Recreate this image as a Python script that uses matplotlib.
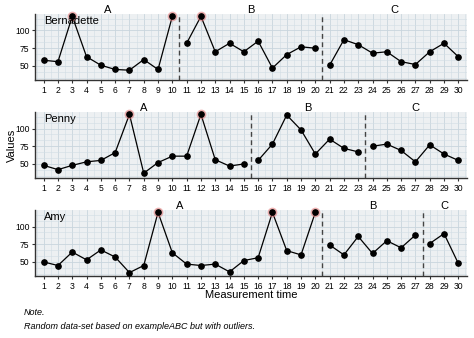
import numpy as np
import matplotlib.pyplot as plt
from matplotlib.ticker import MultipleLocator
import matplotlib.transforms as mtransforms

plt.rcParams['font.family'] = ['Liberation Sans', 'DejaVu Sans']

# data
time = list(range(1, 31))
names = ['Bernadette', 'Penny', 'Amy']
values_bernadette = [58, 56, 120, 63, 51, 45, 44, 59, 45, 120,
                     82, 120, 70, 82, 70, 85, 47, 66, 77, 75,
                     51, 87, 80, 68, 70, 56, 52, 70, 82, 63]
values_penny = [48, 42, 48, 53, 55, 66, 120, 37, 52, 61,
                61, 120, 56, 47, 50, 55, 78, 119, 98, 64,
                85, 72, 67, 75, 78, 69, 53, 77, 64, 55]
values_amy = [50, 45, 64, 53, 67, 57, 35, 45, 120, 63,
              47, 45, 47, 36, 52, 56, 120, 66, 60, 120,
              74, 60, 86, 62, 80, 70, 88, 76, 90, 48]
outliers_bernadette = [3, 10, 12]
outliers_penny = [7, 12]
outliers_amy = [9, 17, 20]
# phases: start of B, start of C
phase_starts = [(11, 21), (16, 24), (21, 28)]
phase_labels = ['A', 'B', 'C']

series = [values_bernadette, values_penny, values_amy]
outliers = [outliers_bernadette, outliers_penny, outliers_amy]

fig = plt.figure(figsize=(4.74, 3.38), dpi=100)

bottoms = [0.763, 0.473, 0.183]
for k in range(3):
    ax = fig.add_axes([0.074, bottoms[k], 0.911, 0.195])
    ax.set_facecolor('#EDF0F2')
    vals = np.array(series[k], dtype=float)
    t = np.array(time)
    b, c = phase_starts[k]
    bounds = [(1, b - 1), (b, c - 1), (c, 30)]
    trans = mtransforms.blended_transform_factory(ax.transData, ax.transAxes)
    for (s, e), lab in zip(bounds, phase_labels):
        m = (t >= s) & (t <= e)
        ax.plot(t[m], vals[m], color='black', lw=0.9, zorder=3)
        ax.text((s + e) / 2, 0.99, lab, transform=trans,
                ha='center', va='bottom', fontsize=8, clip_on=False)
    out = np.isin(t, outliers[k])
    ax.plot(t[out], vals[out], 'o', ms=7, color='#E07070', alpha=0.55, mec='none', zorder=4, clip_on=False)
    ax.plot(t, vals, 'o', ms=3.8, color='black', zorder=5, clip_on=False)
    for x in (b - 0.5, c - 0.5):
        ax.axvline(x, color='#444444', ls=(0, (3.5, 2.5)), lw=1.0, zorder=2)
    ax.text(0.02, 0.89, names[k], transform=ax.transAxes, fontsize=8, va='center', ha='left', zorder=6)

    ax.set_xlim(0.4, 30.6)
    ax.set_ylim(30, 123)
    ax.set_xticks(time)
    ax.set_yticks([50, 75, 100])
    ax.xaxis.set_minor_locator(MultipleLocator(0.5))
    ax.yaxis.set_minor_locator(MultipleLocator(25 / 3))
    ax.grid(which='major', color='#C9D5DD', lw=0.6)
    ax.grid(which='minor', color='#D2DDE4', lw=0.4)
    ax.set_axisbelow(True)
    ax.tick_params(which='minor', length=0)
    ax.tick_params(which='major', labelsize=6.2, length=2.5, width=0.8, color='#333333', pad=1.5)
    for s in ('top', 'right'):
        ax.spines[s].set_visible(False)
    for s in ('left', 'bottom'):
        ax.spines[s].set_color('#333333')
        ax.spines[s].set_linewidth(1.0)

fig.text(0.026, 0.57, 'Values', rotation=90, ha='center', va='center', fontsize=8)
fig.text(0.53, 0.127, 'Measurement time', ha='center', va='center', fontsize=8)
fig.text(0.05, 0.074, 'Note.', ha='left', va='center', fontsize=6.5, style='italic')
fig.text(0.05, 0.033, 'Random data-set based on exampleABC but with outliers.', ha='left', va='center',
         fontsize=6.5, style='italic')

fig.savefig('out.png', dpi=100)
